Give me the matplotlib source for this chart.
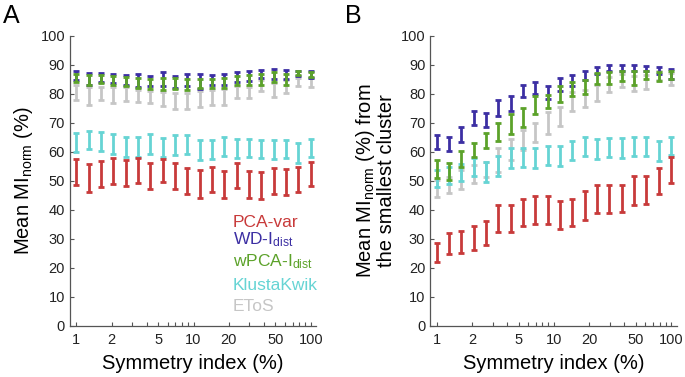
import numpy as np
import matplotlib
matplotlib.use("Agg")
from matplotlib import pyplot as plt

plt.rcParams['font.family'] = ['Liberation Sans', 'DejaVu Sans']
plt.rcParams['mathtext.fontset'] = 'custom'
plt.rcParams['mathtext.rm'] = 'Liberation Sans'
plt.rcParams['mathtext.it'] = 'Liberation Sans:italic'

# symmetry index (%), 20 log-spaced points from 1 to 100
sym_index = np.logspace(0, 2, 20)

methods = ["PCA-var", "WD-I", "wPCA-I", "KlustaKwik", "EToS"]
labels = ["PCA-var", r"WD-$\mathrm{I}_{\mathrm{dist}}$", r"wPCA-$\mathrm{I}_{\mathrm{dist}}$",
          "KlustaKwik", "EToS"]
colors = {"PCA-var": "#c83a3a", "WD-I": "#3c2fa3", "wPCA-I": "#5ca22a",
          "KlustaKwik": "#66d4d4", "EToS": "#c6c6c6"}

# panel A: upper / lower ends of the error bars
pca_A_hi = [57.6, 55.8, 56.9, 57.9, 57.1, 57.7, 56.2, 57.4, 56.2, 54.5,
            53.7, 54.7, 53.3, 56.2, 53.4, 53.0, 54.4, 53.9, 54.8, 56.6]
pca_A_lo = [48.7, 46.2, 47.7, 48.8, 48.2, 49.3, 47.0, 49.6, 47.0, 45.3,
            44.1, 46.0, 43.9, 47.4, 44.1, 43.7, 45.3, 45.0, 46.2, 48.2]
kk_A_hi = [66.6, 67.2, 66.9, 66.1, 65.2, 65.2, 66.0, 64.8, 65.7, 65.8,
           63.9, 64.0, 65.2, 64.4, 64.4, 64.1, 63.9, 63.9, 63.2, 64.4]
kk_A_lo = [60.0, 60.8, 60.4, 59.2, 58.2, 58.2, 59.2, 58.2, 59.0, 59.3,
           57.1, 57.4, 58.6, 57.8, 58.1, 57.8, 57.6, 57.7, 56.3, 58.2]
etos_A_hi = [83.2, 82.4, 82.4, 82.4, 82.4, 81.3, 81.0, 80.7, 80.3, 80.3,
             80.9, 81.3, 81.6, 82.8, 82.2, 84.7, 83.6, 84.7, 85.3, 85.5]
etos_A_lo = [77.9, 76.1, 77.8, 76.9, 77.5, 77.0, 76.7, 75.7, 74.6, 74.7,
             75.5, 76.1, 76.1, 78.4, 78.4, 80.9, 79.0, 80.2, 82.7, 82.4]
wpca_A_hi = [86.8, 86.4, 86.4, 86.2, 85.8, 85.3, 85.1, 85.5, 85.3, 85.0,
             85.1, 85.1, 85.5, 86.2, 86.4, 86.8, 87.4, 87.0, 87.8, 87.4]
wpca_A_lo = [83.9, 83.2, 83.7, 83.0, 82.7, 81.9, 81.5, 81.2, 81.5, 81.2,
             81.9, 81.9, 81.9, 83.0, 83.2, 83.0, 83.9, 83.2, 86.4, 85.8]
wd_A_hi = [87.8, 87.2, 87.2, 86.9, 86.6, 86.7, 86.3, 87.4, 86.2, 86.8,
           86.8, 86.4, 86.7, 87.4, 88.0, 88.3, 88.5, 88.3, 88.0, 88.0]
wd_A_lo = [84.6, 83.1, 84.0, 83.7, 83.1, 82.3, 82.6, 82.8, 82.0, 82.6,
           81.8, 83.2, 83.2, 84.1, 84.4, 85.6, 85.1, 85.1, 86.2, 85.6]

# panel B: smallest cluster
pca_B_hi = [28.5, 32.0, 32.6, 34.3, 36.0, 41.7, 41.5, 43.6, 44.6, 44.7,
            42.9, 43.8, 46.4, 48.6, 48.6, 48.7, 51.5, 51.6, 54.4, 58.2]
pca_B_lo = [22.0, 24.8, 25.1, 26.2, 27.9, 32.5, 32.3, 34.4, 35.2, 35.2,
            33.3, 34.3, 36.6, 39.0, 39.0, 39.2, 41.7, 42.0, 45.5, 49.2]
kk_B_hi = [53.8, 54.7, 55.9, 58.0, 56.6, 58.4, 61.3, 61.3, 61.3, 62.0,
           62.0, 63.7, 65.1, 64.4, 64.8, 64.8, 65.1, 65.1, 63.7, 65.1]
kk_B_lo = [48.0, 49.0, 49.8, 51.6, 49.6, 51.5, 54.5, 54.7, 54.4, 55.3,
           55.2, 57.0, 58.4, 57.5, 58.2, 58.0, 58.6, 58.6, 56.8, 59.0]
etos_B_hi = [50.3, 51.3, 53.8, 55.5, 56.4, 61.3, 64.5, 67.5, 69.9, 73.7,
             75.6, 80.6, 81.4, 83.1, 85.7, 86.9, 86.2, 86.4, 88.0, 87.2]
etos_B_lo = [44.4, 45.7, 47.2, 49.2, 51.3, 53.0, 57.2, 60.5, 63.3, 66.2,
             69.0, 73.9, 75.4, 77.4, 80.6, 82.5, 80.9, 81.7, 84.8, 83.2]
wpca_B_hi = [57.0, 56.3, 60.1, 63.2, 66.4, 69.9, 73.0, 75.1, 79.2, 79.7,
             82.6, 84.0, 84.8, 87.1, 87.5, 88.0, 87.8, 88.0, 87.5, 87.8]
wpca_B_lo = [51.0, 50.1, 54.7, 58.2, 61.4, 63.6, 66.2, 68.6, 72.9, 75.1,
             77.0, 79.1, 80.0, 83.4, 83.4, 84.5, 83.0, 85.0, 84.5, 85.0]
wd_B_hi = [65.9, 65.1, 68.7, 73.9, 73.4, 77.7, 79.2, 82.9, 83.9, 82.8,
           85.3, 86.6, 88.0, 89.2, 89.8, 90.0, 89.8, 89.7, 89.2, 88.6]
wd_B_lo = [60.8, 60.1, 63.3, 69.3, 68.5, 72.5, 74.0, 78.9, 80.0, 78.3,
           81.1, 82.8, 84.8, 86.9, 87.8, 88.0, 88.0, 87.8, 86.7, 85.2]

panel_A = {"EToS": (etos_A_lo, etos_A_hi), "KlustaKwik": (kk_A_lo, kk_A_hi),
           "PCA-var": (pca_A_lo, pca_A_hi), "WD-I": (wd_A_lo, wd_A_hi),
           "wPCA-I": (wpca_A_lo, wpca_A_hi)}
panel_B = {"EToS": (etos_B_lo, etos_B_hi), "KlustaKwik": (kk_B_lo, kk_B_hi),
           "PCA-var": (pca_B_lo, pca_B_hi), "WD-I": (wd_B_lo, wd_B_hi),
           "wPCA-I": (wpca_B_lo, wpca_B_hi)}

major_ticks = [1, 2, 5, 10, 20, 50, 100]
minor_ticks = [3, 4, 6, 7, 8, 9, 30, 40, 60, 70, 80, 90]
axis_col = "#555555"


def draw_panel(ax, data):
    for name, (lo, hi) in data.items():
        lo = np.array(lo)
        hi = np.array(hi)
        mid = (lo + hi) / 2
        err = (hi - lo) / 2
        ax.errorbar(sym_index, mid, yerr=err, fmt="none", ecolor=colors[name],
                    elinewidth=2.0, capsize=2.2, capthick=2.0)
    ax.set_xscale("log")
    ax.set_xlim(0.88, 112)
    ax.set_ylim(0, 100)
    ax.set_xticks(major_ticks)
    ax.set_xticklabels([str(t) for t in major_ticks])
    ax.set_xticks(minor_ticks, minor=True)
    ax.set_xticklabels([], minor=True)
    ax.set_yticks(range(0, 101, 10))
    for side in ["top", "right"]:
        ax.spines[side].set_visible(False)
    for side in ["left", "bottom"]:
        ax.spines[side].set_color(axis_col)
        ax.spines[side].set_linewidth(0.9)
    ax.tick_params(which="both", direction="in", length=3, width=0.8,
                   color=axis_col, labelsize=10.5, labelcolor="#222222")
    ax.tick_params(axis="x", pad=5)
    ax.set_xlabel("Symmetry index (%)", fontsize=14.5, labelpad=5)


fig = plt.figure(figsize=(6.85, 3.77), dpi=100)
ax1 = fig.add_axes([0.102, 0.136, 0.360, 0.769])
ax2 = fig.add_axes([0.628, 0.136, 0.360, 0.769])

draw_panel(ax1, panel_A)
draw_panel(ax2, panel_B)

ax1.set_ylabel(r"Mean $\mathrm{MI}_{\mathrm{norm}}$ (%)", fontsize=14.5)
ax1.yaxis.set_label_coords(-0.14, 0.5)
ax2.set_ylabel("Mean $\\mathrm{MI}_{\\mathrm{norm}}$ (%) from\nthe smallest cluster",
               fontsize=14.5, linespacing=0.95)
ax2.yaxis.set_label_coords(-0.14, 0.5)

legend_y = [0.340, 0.281, 0.206, 0.123, 0.051]
for name, lab, yy in zip(methods, labels, legend_y):
    ax1.text(0.662, yy, lab, transform=ax1.transAxes, color=colors[name],
             fontsize=12.5, va="baseline", ha="left")

fig.text(0.004, 0.99, "A", fontsize=18, va="top", ha="left")
fig.text(0.503, 0.99, "B", fontsize=18, va="top", ha="left")

fig.savefig("out.png", dpi=100)
